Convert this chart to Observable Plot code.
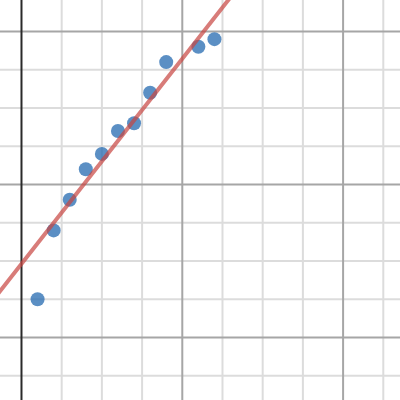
<!DOCTYPE html>
<html>
<head>
<meta charset="utf-8">
<script src="https://cdn.jsdelivr.net/npm/d3@7"></script>
<script src="https://cdn.jsdelivr.net/npm/@observablehq/plot@0.6"></script>
<style>
  html, body { margin: 0; padding: 0; background: #fff; }
  #chart svg { display: block; }
</style>
</head>
<body>
<div id="chart"></div>
<script>
// Data points
const xs = [0.4, 0.8, 1.2, 1.6, 2.0, 2.4, 2.8, 3.2, 3.6, 4.4, 4.8];
const ys = [5.0, 6.8, 7.6, 8.4, 8.8, 9.4, 9.6, 10.4, 11.2, 11.6, 11.8];

// Fitted line endpoints
const lineXs = [-0.7, 5.3];
const lineYs = [4.99, 13.03];

// Grid lines
const minorX = [1, 2, 3, 5, 6, 7, 9];
const majorX = [4, 8];
const axisX = [0];
const minorY = [3, 5, 6, 7, 9, 10, 11];
const majorY = [4, 8, 12];

const points = xs.map((x, i) => ({x, y: ys[i]}));
const line = lineXs.map((x, i) => ({x, y: lineYs[i]}));

const chart = Plot.plot({
  width: 400,
  height: 400,
  margin: 0,
  x: {domain: [-0.522, 9.428], axis: null},
  y: {domain: [2.353, 12.81], axis: null},
  marks: [
    Plot.ruleX(minorX, {stroke: "#dcdcdc", strokeWidth: 2}),
    Plot.ruleY(minorY, {stroke: "#dcdcdc", strokeWidth: 2}),
    Plot.ruleX(majorX, {stroke: "#a6a6a6", strokeWidth: 2}),
    Plot.ruleY(majorY, {stroke: "#a6a6a6", strokeWidth: 2}),
    Plot.ruleX(axisX, {stroke: "#2a2a2a", strokeWidth: 2}),
    Plot.dot(points, {x: "x", y: "y", r: 7, fill: "#2d70b3", fillOpacity: 0.78, stroke: "none"}),
    Plot.line(line, {x: "x", y: "y", stroke: "#c74440", strokeOpacity: 0.7, strokeWidth: 4, clip: true})
  ]
});
document.getElementById("chart").appendChild(chart);
</script>
</body>
</html>
